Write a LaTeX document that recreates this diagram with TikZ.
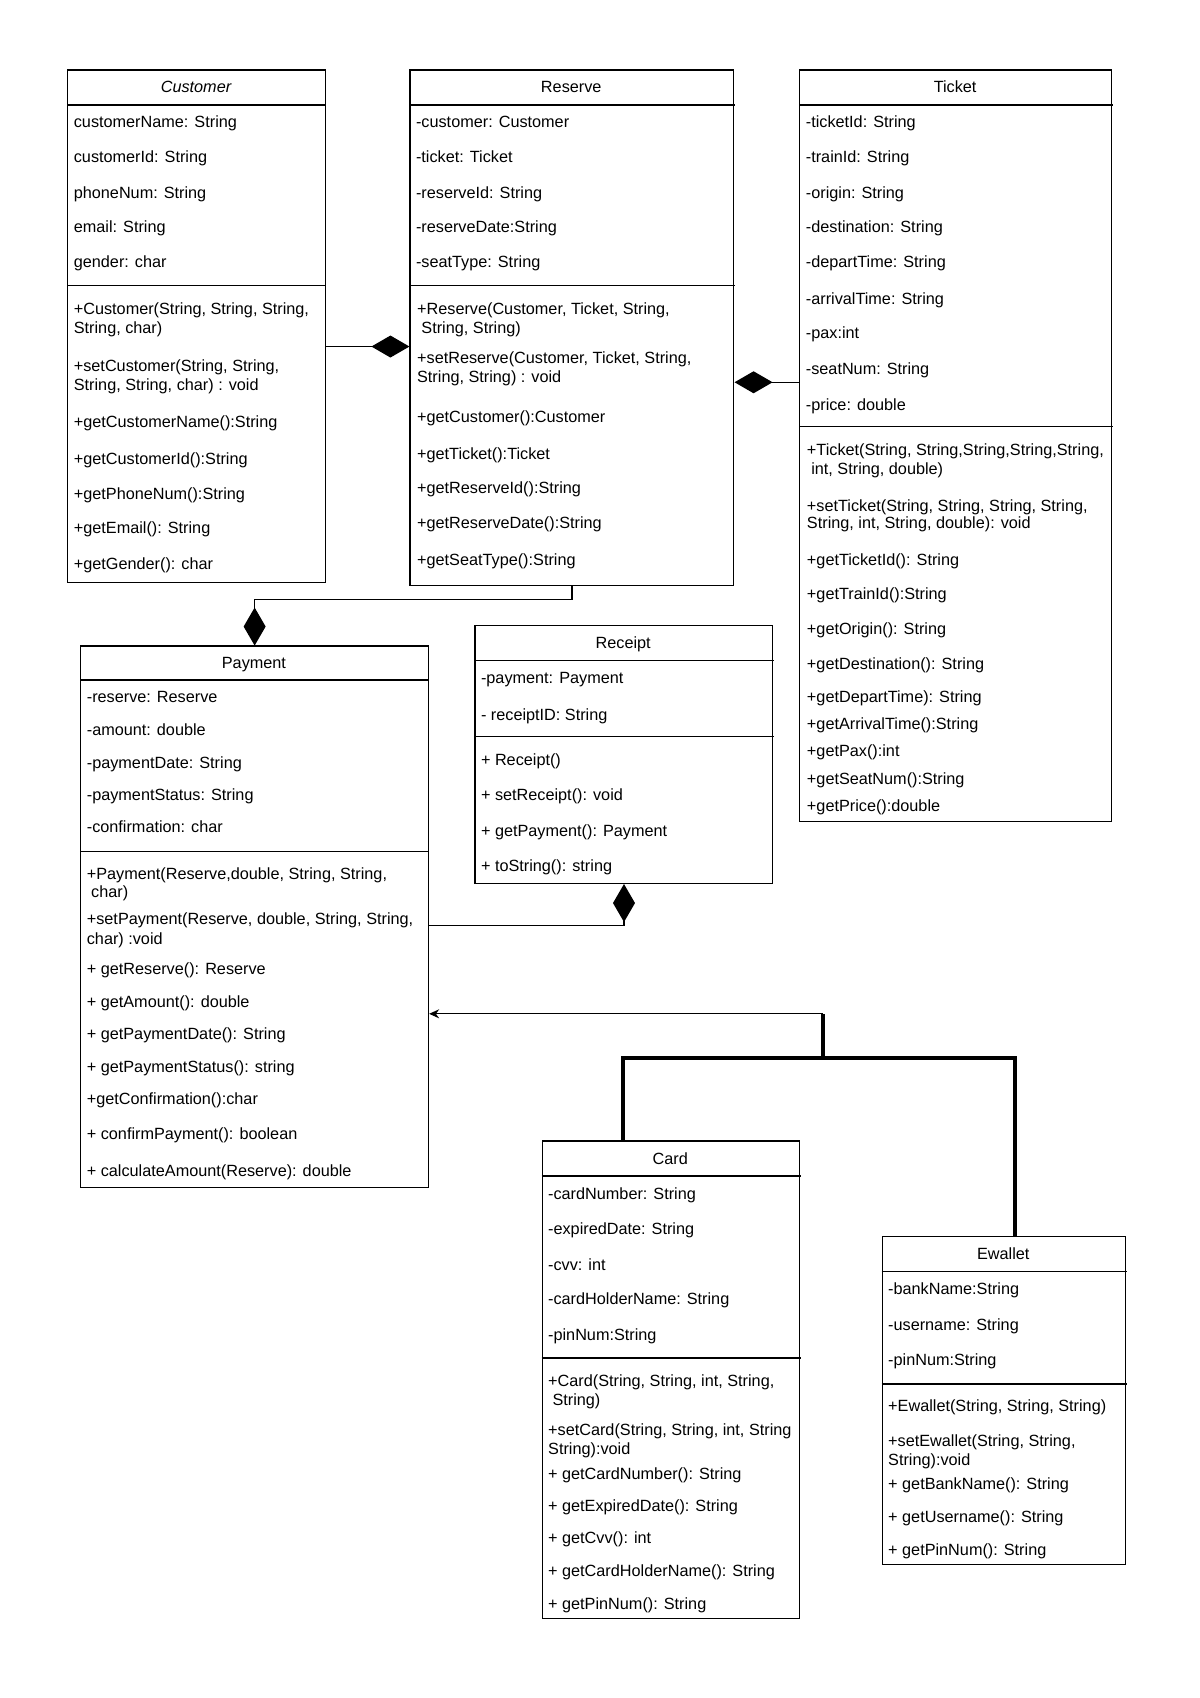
\documentclass[tikz,border=0pt]{standalone}
\usepackage{fontspec}
\setmainfont{Liberation Sans}
\usetikzlibrary{arrows.meta}
\tikzset{
  box/.style={draw, line width=1.2pt, rectangle, anchor=north west, inner sep=0pt, fill=white},
  txt/.style={anchor=base west, inner sep=0pt, font=\fontsize{15}{18}\selectfont},
  ttl/.style={anchor=base, inner sep=0pt, font=\fontsize{15}{18}\selectfont},
  sep/.style={line width=1.2pt},
  link/.style={line width=1.2pt},
  comp/.style={link, -{Diamond[length=38pt,width=22pt]}},
  heavy/.style={line width=4pt},
  gen/.style={link, -{Stealth[length=10pt,width=9pt]}}
}
\newcommand\umlrows[3]{%
  \foreach \yy/\tt [count=\i] in {#3} {\node[txt] (#1-\i) at (#2,\yy+5) {\tt};}}
\begin{document}
\begin{tikzpicture}[x=1pt,y=-1pt,scale=1.08291,every node/.append style={transform shape}]
\useasboundingbox (0,0) rectangle (1108.1,1568);
\fill[white] (0,0) rectangle (1108.1,1568);

% ---------------- boxes
\node[box, minimum width=238pt, minimum height=473pt] (cust) at (62,64) {};
\node[box, minimum width=299pt, minimum height=476pt] (res) at (378,64) {};
\node[box, minimum width=288pt, minimum height=694pt] (tic) at (738,64) {};
\node[box, minimum width=321pt, minimum height=500pt] (pay) at (74,596) {};
\node[box, minimum width=275pt, minimum height=238pt] (rec) at (438,577) {};
\node[box, minimum width=238pt, minimum height=441pt] (card) at (500,1053) {};
\node[box, minimum width=225pt, minimum height=303pt] (ew) at (814,1141) {};

% ---------------- separators
\draw[sep] (cust.west |- 0,97) -- (cust.east |- 0,97);
\draw[sep] (cust.west |- 0,264) -- (cust.east |- 0,264);
\draw[sep] (res.west |- 0,97) -- (res.east |- 0,97);
\draw[sep] (res.west |- 0,264) -- (res.east |- 0,264);
\draw[sep] (tic.west |- 0,97) -- (tic.east |- 0,97);
\draw[sep] (tic.west |- 0,394) -- (tic.east |- 0,394);
\draw[sep] (pay.west |- 0,628) -- (pay.east |- 0,628);
\draw[sep] (pay.west |- 0,786) -- (pay.east |- 0,786);
\draw[sep] (rec.west |- 0,610) -- (rec.east |- 0,610);
\draw[sep] (rec.west |- 0,680) -- (rec.east |- 0,680);
\draw[sep] (card.west |- 0,1086) -- (card.east |- 0,1086);
\draw[sep] (card.west |- 0,1254) -- (card.east |- 0,1254);
\draw[sep] (ew.west |- 0,1174) -- (ew.east |- 0,1174);
\draw[sep] (ew.west |- 0,1278) -- (ew.east |- 0,1278);

% ---------------- titles
\node[ttl] (cust-t) at (181,85) {\itshape Customer};
\node[ttl] (res-t) at (527.5,85) {Reserve};
\node[ttl] (tic-t) at (882,85) {Ticket};
\node[ttl] (pay-t) at (234.5,617) {Payment};
\node[ttl] (rec-t) at (575.5,599) {Receipt};
\node[ttl] (card-t) at (619,1075) {Card};
\node[ttl] (ew-t) at (926.5,1163) {Ewallet};

% ---------------- Customer
\umlrows{ca}{68}{113/customerName: String, 145/customerId: String, 178/phoneNum: String, 210/email: String, 242/gender: char}
\umlrows{cm}{68}{285/{+Customer(String, String, String,}, 303/{String, char)}, 338/{+setCustomer(String, String,}, 356/{String, String, char) : void}, 390/+getCustomerName():String, 424/+getCustomerId():String, 456/+getPhoneNum():String, 488/+getEmail(): String, 521/+getGender(): char}

% ---------------- Reserve
\umlrows{ra}{384}{113/-customer: Customer, 145/-ticket: Ticket, 178/-reserveId: String, 210/-reserveDate:String, 242/-seatType: String}
\umlrows{rm}{385}{285/{+Reserve(Customer, Ticket, String,}, 303/{\hspace{4pt}String, String)}, 331/{+setReserve(Customer, Ticket, String,}, 348/{String, String) : void}, 385/+getCustomer():Customer, 419/+getTicket():Ticket, 451/+getReserveId():String, 483/+getReserveDate():String, 517/+getSeatType():String}

% ---------------- Ticket
\umlrows{ta}{744}{113/-ticketId: String, 145/-trainId: String, 178/-origin: String, 210/-destination: String, 242/-departTime: String, 276/-arrivalTime: String, 308/-pax:int, 341/-seatNum: String, 374/-price: double}
\umlrows{tm}{745}{416/{+Ticket(String, String,String,String,String,}, 433/{\hspace{4pt}int, String, double)}, 467/{+setTicket(String, String, String, String,}, 483/{String, int, String, double): void}, 517/+getTicketId(): String, 549/+getTrainId():String, 581/+getOrigin(): String, 613/+getDestination(): String, 644/+getDepartTime): String, 669/+getArrivalTime():String, 694/+getPax():int, 719/+getSeatNum():String, 744/+getPrice():double}

% ---------------- Payment
\umlrows{pa}{80}{644/-reserve: Reserve, 674/-amount: double, 705/-paymentDate: String, 734/-paymentStatus: String, 764/-confirmation: char}
\umlrows{pm}{80}{807/{+Payment(Reserve,double, String, String,}, 824/{\hspace{4pt}char)}, 849/{+setPayment(Reserve, double, String, String,}, 867/{char) :void}, 895/+ getReserve(): Reserve, 925/+ getAmount(): double, 955/+ getPaymentDate(): String, 985/+ getPaymentStatus(): string, 1015/+getConfirmation():char, 1047/+ confirmPayment(): boolean, 1081/+ calculateAmount(Reserve): double}

% ---------------- Receipt
\umlrows{ea}{444}{626/-payment: Payment, 660/- receiptID: String}
\umlrows{em}{444}{702/+ Receipt(), 734/+ setReceipt(): void, 767/+ getPayment(): Payment, 800/+ toString(): string}

% ---------------- Card
\umlrows{ka}{506}{1103/-cardNumber: String, 1135/-expiredDate: String, 1168/-cvv: int, 1200/-cardHolderName: String, 1233/-pinNum:String}
\umlrows{km}{506}{1275/{+Card(String, String, int, String,}, 1293/{\hspace{4pt}String)}, 1321/{+setCard(String, String, int, String}, 1338/{String):void}, 1361/+ getCardNumber(): String, 1391/+ getExpiredDate(): String, 1420/+ getCvv(): int, 1451/+ getCardHolderName(): String, 1481/+ getPinNum(): String}

% ---------------- Ewallet
\umlrows{wa}{820}{1190/-bankName:String, 1224/-username: String, 1256/-pinNum:String}
\umlrows{wm}{820}{1298/{+Ewallet(String, String, String)}, 1331/{+setEwallet(String, String,}, 1348/{String):void}, 1370/+ getBankName(): String, 1401/+ getUsername(): String, 1431/+ getPinNum(): String}

% ---------------- connectors
\draw[comp] (cust.east |- 0,320) -- (res.west |- 0,320);
\draw[comp] (tic.west |- 0,353) -- (res.east |- 0,353);
\draw[comp] (res.south) -- ++(0,12) -| (pay.north);
\draw[comp] (pay.east |- 0,855) -| (rec.south);

\coordinate (ja) at (760,936);
\coordinate (jc) at (575,977);
\coordinate (je) at (937,977);
\draw[heavy] (jc |- card.north) -- (jc) -- (je) -- (je |- ew.north);
\draw[heavy] (ja |- jc) -- (ja);
\draw[gen] (ja) -- (pay.east |- ja);
\end{tikzpicture}
\end{document}
